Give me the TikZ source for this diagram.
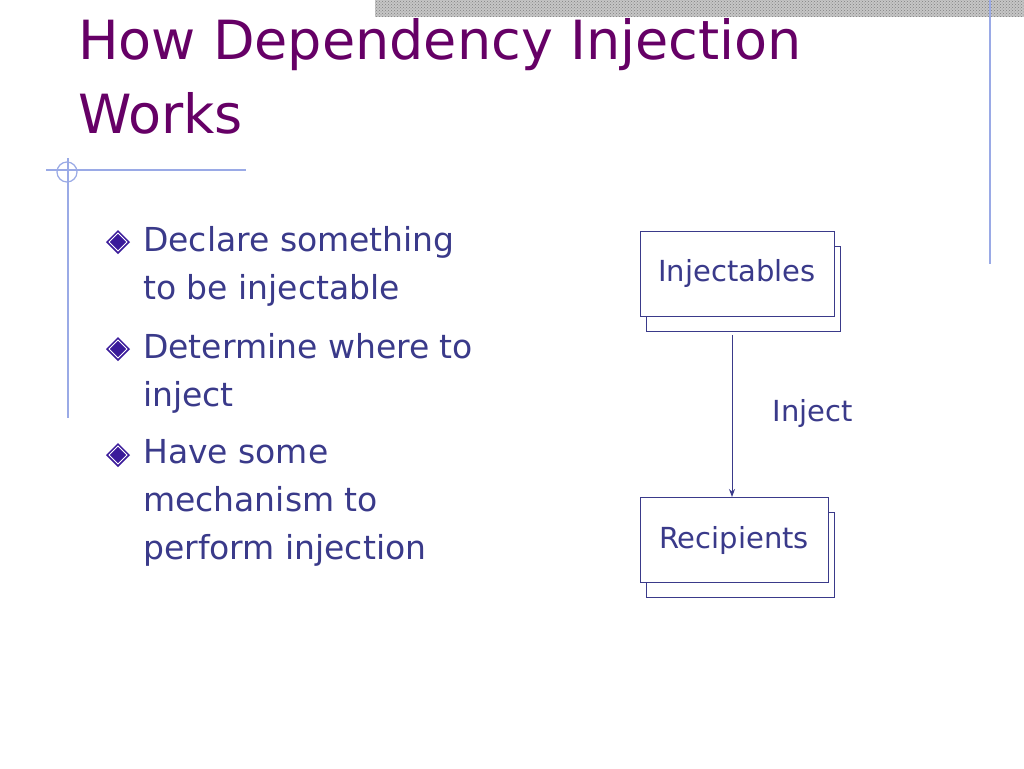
\documentclass[tikz,border=0pt]{standalone}
\usepackage{fontspec}
\setmainfont{DejaVu Sans}
\usetikzlibrary{patterns,arrows.meta}
\definecolor{ttl}{HTML}{660066}
\definecolor{bdy}{HTML}{3A3A8A}
\definecolor{ln}{HTML}{9AAAE6}
\definecolor{bul}{HTML}{3A1A9A}
\tikzset{
 box/.style={draw=bdy,fill=white,line width=1pt,minimum height=85pt,inner sep=0pt},
 btxt/.style={text=bdy,font=\fontsize{33}{48}\selectfont,anchor=north west,align=left,inner sep=0pt},
 lbl/.style={text=bdy,font=\fontsize{29}{34}\selectfont},
 deco/.style={draw=ln,line width=1.2pt}
}
\newcommand{\bulletmark}[2]{%
 \fill[bul] (#1,#2+12) -- (#1+12,#2) -- (#1,#2-12) -- (#1-12,#2) -- cycle;
 \draw[white,line width=1pt] (#1,#2+9) -- (#1+9,#2) -- (#1,#2-9) -- (#1-9,#2) -- cycle;}
\begin{document}
\begin{tikzpicture}[x=1pt,y=-1pt]
\useasboundingbox (0,0) rectangle (1024,768);
\fill[white] (0,0) rectangle (1024,768);
\fill[gray!45] (375,0) rectangle (1024,17);
\fill[pattern=crosshatch dots, pattern color=gray] (375,0) rectangle (1024,17);
\draw[deco] (990,0) -- (990,264);
\draw[deco] (46,170) -- (246,170);
\draw[deco] (68,158) -- (68,418);
\draw[deco] (67,172) circle[radius=10];
\node[anchor=north west,inner sep=0pt,text=ttl,align=left,font=\fontsize{54}{74}\selectfont] (title) at (78,18) {How Dependency Injection\\Works};
\bulletmark{118}{242}
\node[btxt] (b1) at (143,226) {Declare something\\to be injectable};
\bulletmark{118}{349}
\node[btxt] (b2) at (143,333) {Determine where to\\inject};
\bulletmark{118}{455}
\node[btxt] (b3) at (143,439) {Have some\\mechanism to\\perform injection};
\node[box,minimum width=194pt] (ib) at (743,288.5) {};
\node[box,minimum width=194pt] (inj) at (737,273.5) {};
\node[lbl] (injt) at (inj.center) {Injectables};
\node[box,minimum width=188pt] (rb) at (740,555) {};
\node[box,minimum width=188pt] (rec) at (734,540) {};
\node[lbl] (rect) at (rec.center) {Recipients};
\draw[bdy,line width=1pt,-{Stealth[length=8pt,width=6pt]}] (732,335) -- (rec.north -| 732,0);
\node[lbl] (lab) at (813,413) {Inject};
\end{tikzpicture}
\end{document}
